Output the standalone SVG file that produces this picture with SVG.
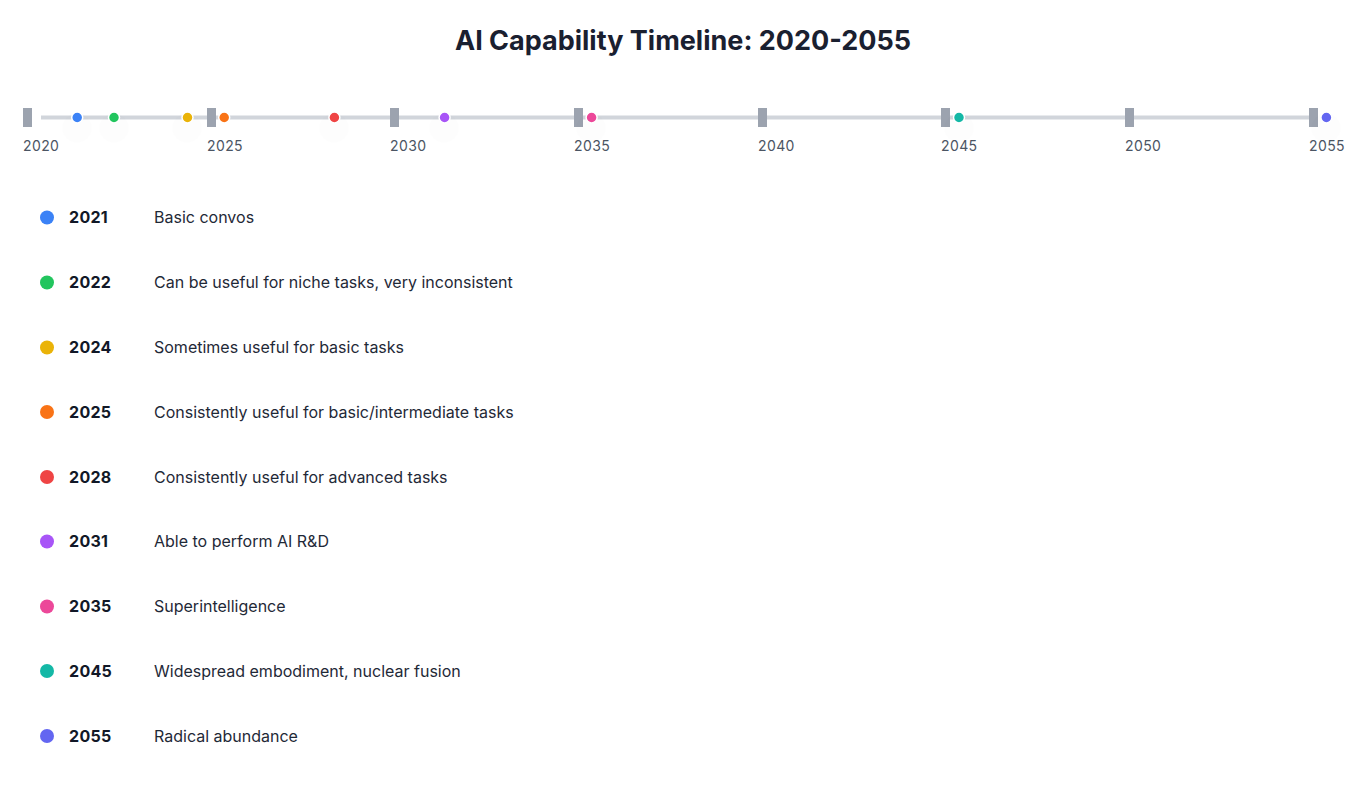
<svg xmlns="http://www.w3.org/2000/svg" width="1358" height="810" viewBox="0 0 1358 810">
<style>
.title{font-family:Inter,"Liberation Sans",sans-serif;font-size:27px;font-weight:700;fill:#1a2030;text-anchor:middle}
.tick{fill:#9ca3af}
.axl{font-family:Inter,"Liberation Sans",sans-serif;font-size:14px;fill:#4b5563;letter-spacing:0.4px}
.dot{stroke:#fff;stroke-width:1.5}
.halo{fill:#000;opacity:0.007}
.yr{font-family:Inter,"Liberation Sans",sans-serif;font-size:16px;font-weight:700;fill:#111827;letter-spacing:0.3px}
.desc{font-family:Inter,"Liberation Sans",sans-serif;font-size:16px;fill:#1f2937}
</style>
<rect width="1358" height="810" fill="#fff"/>
<text class="title" x="683" y="50">AI Capability Timeline: 2020-2055</text>
<g id="axis">
<line x1="41" y1="117.5" x2="1318" y2="117.5" stroke="#d1d5db" stroke-width="4"/>
<rect class="tick" x="23" y="108" width="9" height="19"/>
<rect class="tick" x="207" y="108" width="9" height="19"/>
<rect class="tick" x="390" y="108" width="9" height="19"/>
<rect class="tick" x="574" y="108" width="9" height="19"/>
<rect class="tick" x="758" y="108" width="9" height="19"/>
<rect class="tick" x="941" y="108" width="9" height="19"/>
<rect class="tick" x="1125" y="108" width="9" height="19"/>
<rect class="tick" x="1309" y="108" width="9" height="19"/>
<text class="axl" x="23" y="151">2020</text>
<text class="axl" x="207" y="151">2025</text>
<text class="axl" x="390" y="151">2030</text>
<text class="axl" x="574" y="151">2035</text>
<text class="axl" x="758" y="151">2040</text>
<text class="axl" x="941" y="151">2045</text>
<text class="axl" x="1125" y="151">2050</text>
<text class="axl" x="1309" y="151">2055</text>
</g>
<g id="markers">
<circle class="halo" cx="77" cy="128" r="15"/>
<circle class="halo" cx="114" cy="128" r="15"/>
<circle class="halo" cx="187" cy="128" r="15"/>
<circle class="halo" cx="334" cy="128" r="15"/>
<circle class="halo" cx="444" cy="128" r="15"/>
<circle class="halo" cx="591" cy="128" r="15"/>
<circle class="halo" cx="959" cy="128" r="15"/>
<circle class="halo" cx="1326" cy="128" r="15"/>
<circle class="dot" cx="77.2" cy="117.5" r="5.5" fill="#3b82f6"/>
<circle class="dot" cx="114" cy="117.5" r="5.5" fill="#22c55e"/>
<circle class="dot" cx="187.5" cy="117.5" r="5.5" fill="#eab308"/>
<circle class="dot" cx="224.2" cy="117.5" r="5.5" fill="#f97316"/>
<circle class="dot" cx="334.4" cy="117.5" r="5.5" fill="#ef4444"/>
<circle class="dot" cx="444.6" cy="117.5" r="5.5" fill="#a855f7"/>
<circle class="dot" cx="591.6" cy="117.5" r="5.5" fill="#ec4899"/>
<circle class="dot" cx="959" cy="117.5" r="5.5" fill="#14b8a6"/>
<circle class="dot" cx="1326.4" cy="117.5" r="5.5" fill="#6366f1"/>
</g>
<g id="item-2021"><circle cx="47" cy="217.5" r="7" fill="#3b82f6"/><text class="yr" x="69" y="223">2021</text><text class="desc" x="154" y="223">Basic convos</text></g>
<g id="item-2022"><circle cx="47" cy="282.5" r="7" fill="#22c55e"/><text class="yr" x="69" y="288">2022</text><text class="desc" x="154" y="288">Can be useful for niche tasks, very inconsistent</text></g>
<g id="item-2024"><circle cx="47" cy="347.5" r="7" fill="#eab308"/><text class="yr" x="69" y="353">2024</text><text class="desc" x="154" y="353">Sometimes useful for basic tasks</text></g>
<g id="item-2025"><circle cx="47" cy="412" r="7" fill="#f97316"/><text class="yr" x="69" y="418">2025</text><text class="desc" x="154" y="418">Consistently useful for basic/intermediate tasks</text></g>
<g id="item-2028"><circle cx="47" cy="477" r="7" fill="#ef4444"/><text class="yr" x="69" y="482.5">2028</text><text class="desc" x="154" y="482.5">Consistently useful for advanced tasks</text></g>
<g id="item-2031"><circle cx="47" cy="541.5" r="7" fill="#a855f7"/><text class="yr" x="69" y="547">2031</text><text class="desc" x="154" y="547">Able to perform AI R&amp;D</text></g>
<g id="item-2035"><circle cx="47" cy="606.5" r="7" fill="#ec4899"/><text class="yr" x="69" y="612">2035</text><text class="desc" x="154" y="612">Superintelligence</text></g>
<g id="item-2045"><circle cx="47" cy="671" r="7" fill="#14b8a6"/><text class="yr" x="69" y="677">2045</text><text class="desc" x="154" y="677">Widespread embodiment, nuclear fusion</text></g>
<g id="item-2055"><circle cx="47" cy="736" r="7" fill="#6366f1"/><text class="yr" x="69" y="741.5">2055</text><text class="desc" x="154" y="741.5">Radical abundance</text></g>
</svg>
